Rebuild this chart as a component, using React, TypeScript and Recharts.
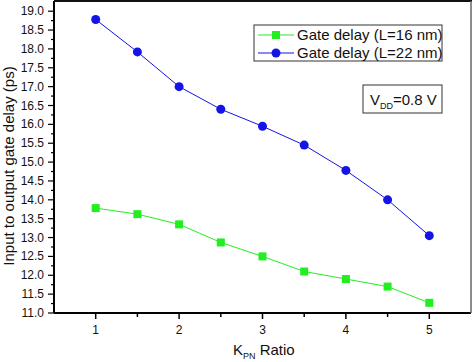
import React from 'react';
import { LineChart, Line, XAxis, YAxis } from 'recharts';

const kpn = [1, 1.5, 2, 2.5, 3, 3.5, 4, 4.5, 5];
const delay16 = [13.78, 13.62, 13.35, 12.87, 12.5, 12.1, 11.9, 11.7, 11.27];
const delay22 = [18.78, 17.92, 17.0, 16.4, 15.95, 15.45, 14.78, 14.0, 13.05];
const xTicks = [1, 1.5, 2, 2.5, 3, 3.5, 4, 4.5, 5];
const yTicks: number[] = [];
for (let i = 0; i <= 32; i++) yTicks.push(11 + i * 0.25);

const data = kpn.map((k, i) => ({ k, g16: delay16[i], g22: delay22[i] }));

const FONT = 'Liberation Sans, Arial, sans-serif';
const GREEN = '#22ee22';
const BLUE = '#1414e6';

const XTick = (props: any) => {
  const { x, y, payload } = props;
  const v = payload.value;
  const major = Number.isInteger(v);
  return (
    <g>
      <line x1={x} x2={x} y1={y} y2={y + (major ? 6 : 4)} stroke="#000" strokeWidth={1.5} />
      {major && (
        <text x={x} y={y + 21} textAnchor="middle" fontSize={12} fontFamily={FONT} fill="#111">
          {v}
        </text>
      )}
    </g>
  );
};

const YTick = (props: any) => {
  const { x, y, payload } = props;
  const v = payload.value;
  const major = Math.abs(v * 2 - Math.round(v * 2)) < 1e-6;
  return (
    <g>
      <line x1={x} x2={x - (major ? 6 : 3)} y1={y} y2={y} stroke="#000" strokeWidth={1.2} />
      {major && (
        <text x={x - 10} y={y + 4} textAnchor="end" fontSize={12} fontFamily={FONT} fill="#111">
          {v.toFixed(1)}
        </text>
      )}
    </g>
  );
};

const SquareDot = (props: any) => {
  const { cx, cy } = props;
  return <rect x={cx - 4} y={cy - 4} width={8} height={8} fill={GREEN} />;
};

const Overlay = () => (
  <svg width={474} height={362} style={{ position: 'absolute', left: 0, top: 0, pointerEvents: 'none', fontFamily: FONT }}>
    <rect x={254} y={25} width={188} height={36} fill="#fff" stroke="#333" strokeWidth={1} />
    <line x1={258} x2={294} y1={35} y2={35} stroke={GREEN} strokeWidth={1} />
    <rect x={272} y={31} width={8} height={8} fill={GREEN} />
    <text x={297} y={40} fontSize={15} fill="#111">Gate delay (L=16 nm)</text>
    <line x1={258} x2={294} y1={53} y2={53} stroke={BLUE} strokeWidth={1} />
    <circle cx={276} cy={53} r={4.5} fill={BLUE} />
    <text x={297} y={58} fontSize={15} fill="#111">Gate delay (L=22 nm)</text>
    <rect x={363} y={85} width={79} height={28} fill="#fff" stroke="#333" strokeWidth={1} />
    <text x={370} y={105} fontSize={15} fill="#111">
      V<tspan fontSize={9} dy={4}>DD</tspan><tspan dy={-4}>=0.8 V</tspan>
    </text>
    <text x={233} y={355} fontSize={15} fill="#111">
      K<tspan fontSize={9} dy={4}>PN</tspan><tspan dy={-4}> Ratio</tspan>
    </text>
    <text x={0} y={0} fontSize={15} fill="#111" textAnchor="middle" transform="translate(14,166) rotate(-90)">
      Input to output gate delay (ps)
    </text>
    <line x1={54} x2={472} y1={1} y2={1} stroke="#111" strokeWidth={2} />
    <line x1={471} x2={471} y1={1} y2={313} stroke="#666" strokeWidth={1.5} />
  </svg>
);

export default function App() {
  return (
    <div style={{ position: 'absolute', left: 0, top: 0, width: 474, height: 362, background: '#fff' }}>
      <LineChart width={474} height={362} data={data} margin={{ top: 1, right: 3, bottom: 0, left: 0 }}>
        <XAxis
          dataKey="k"
          type="number"
          domain={[0.5, 5.5]}
          ticks={xTicks}
          tick={<XTick />}
          tickLine={false}
          tickSize={0}
          tickMargin={0}
          axisLine={{ stroke: '#000', strokeWidth: 2 }}
          height={49}
          interval={0}
        />
        <YAxis
          type="number"
          domain={[11, 19.27]}
          ticks={yTicks}
          tick={<YTick />}
          tickLine={false}
          tickSize={0}
          tickMargin={0}
          axisLine={{ stroke: '#000', strokeWidth: 2 }}
          width={54}
          interval={0}
          allowDataOverflow
        />
        <Line dataKey="g16" stroke={GREEN} strokeWidth={1} dot={<SquareDot />} isAnimationActive={false} />
        <Line dataKey="g22" stroke={BLUE} strokeWidth={1} dot={{ r: 4.5, fill: BLUE, stroke: BLUE, strokeWidth: 0 }} isAnimationActive={false} />
      </LineChart>
      <Overlay />
    </div>
  );
}
